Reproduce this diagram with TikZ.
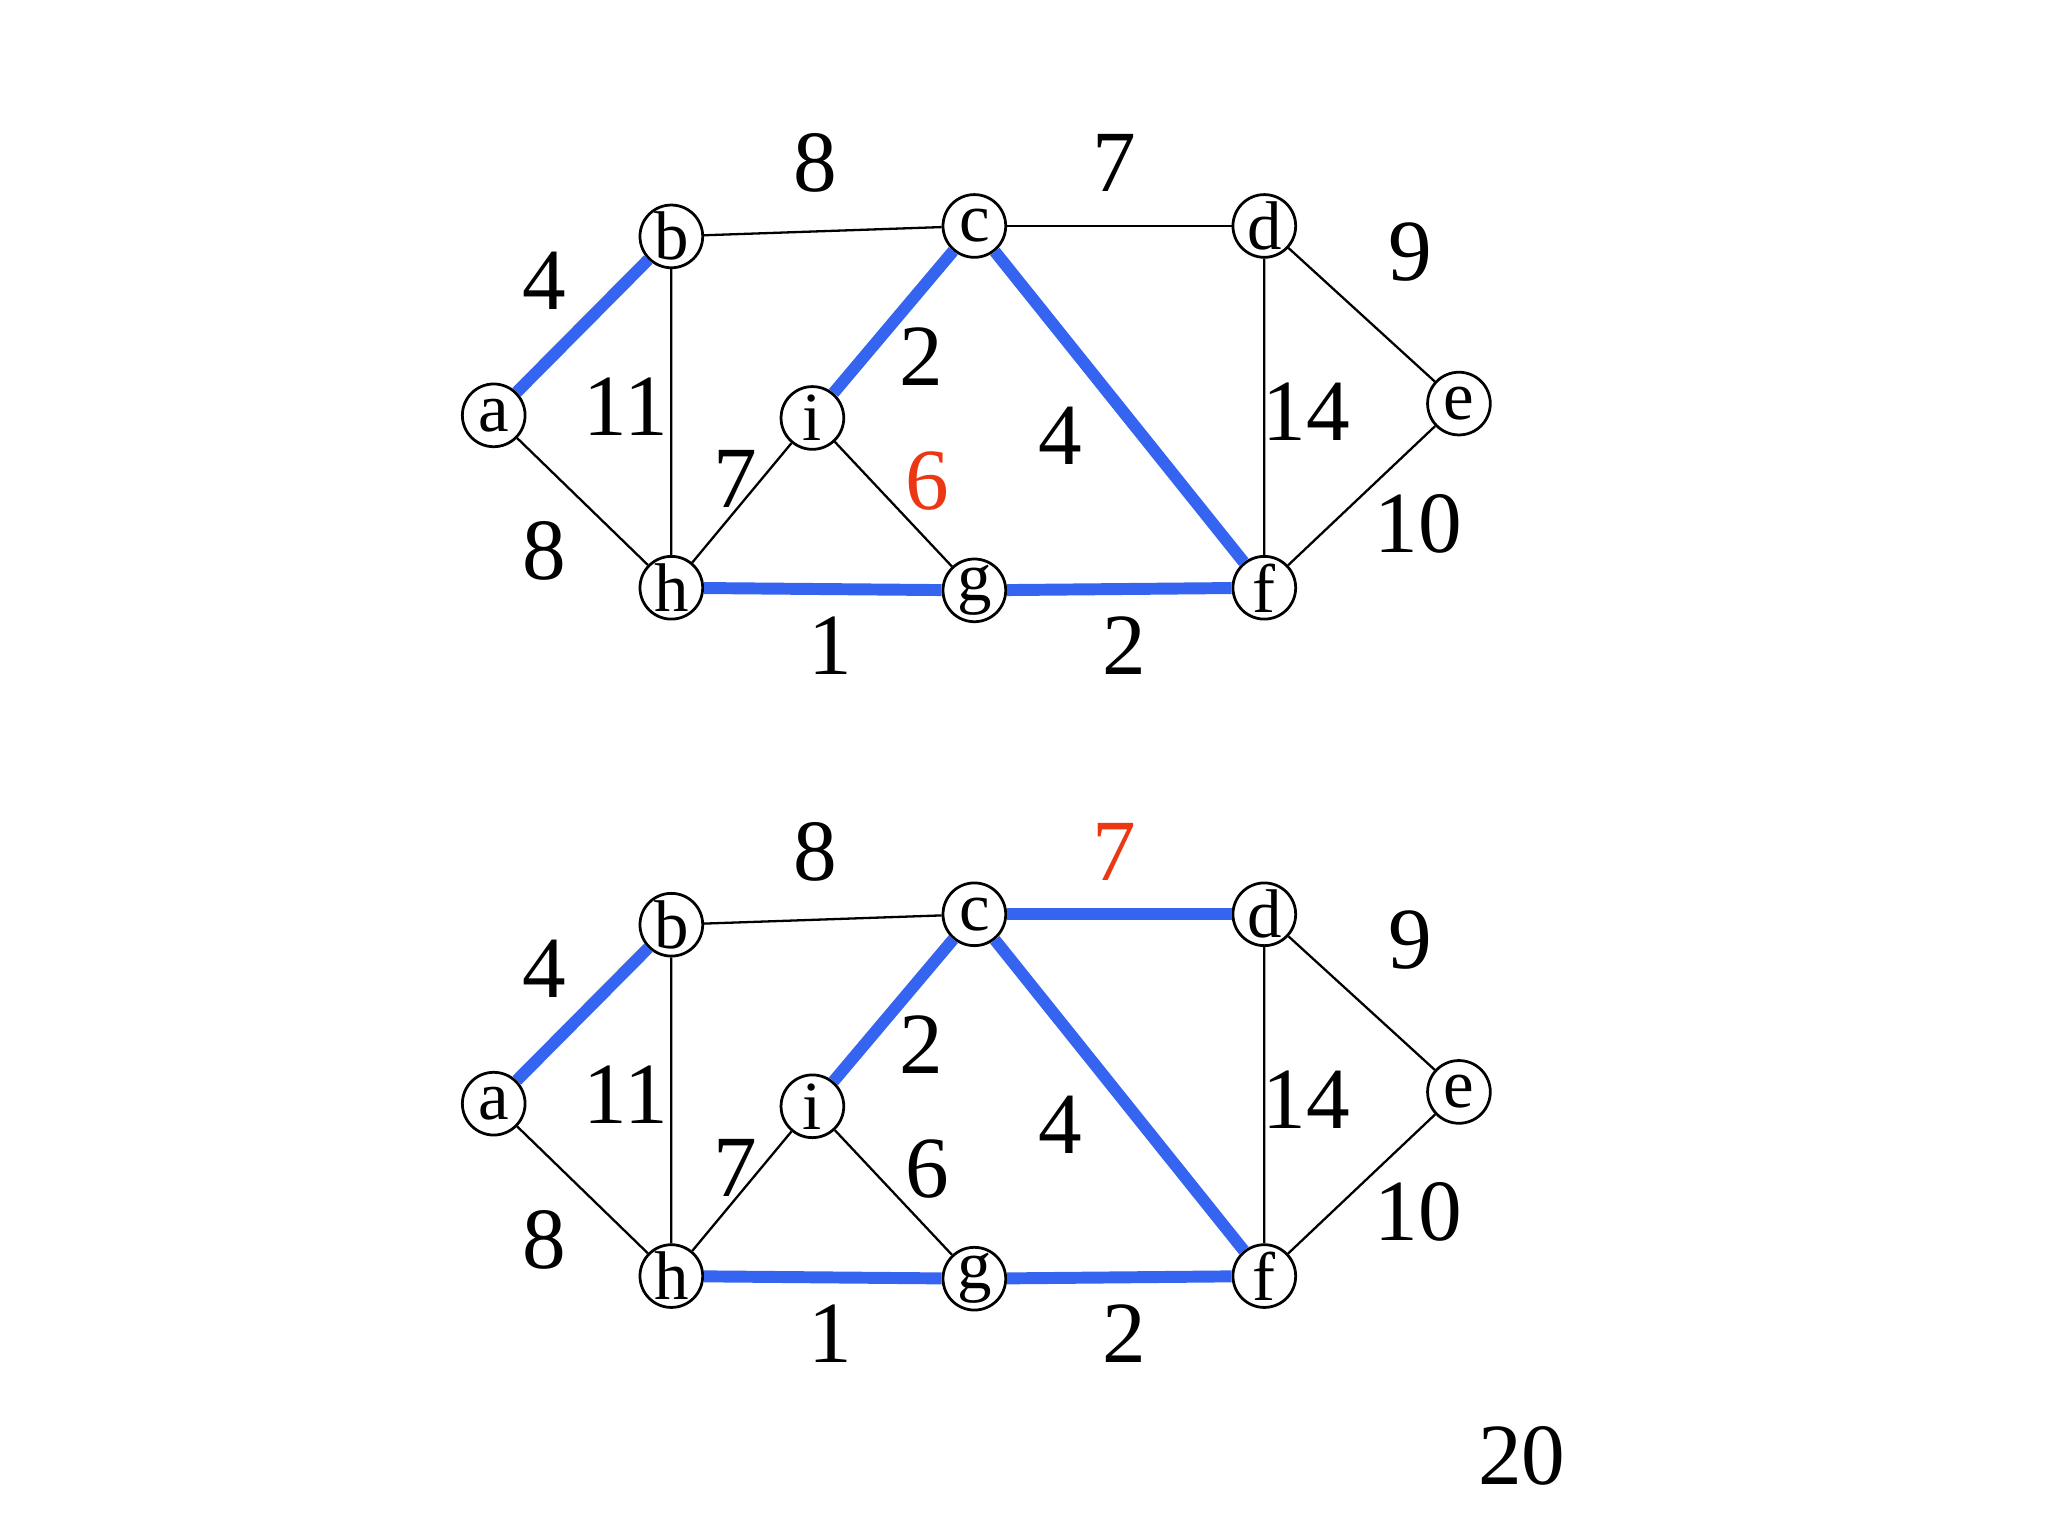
\documentclass[tikz,border=0pt]{standalone}
\usepackage{fontspec}
\setmainfont{Liberation Serif}
\begin{document}
\begin{tikzpicture}[x=0.01cm,y=-0.01cm,
  vtx/.style={circle,draw,line width=0.6pt,minimum size=0.48cm,inner sep=0pt,font=\fontsize{15}{15}\selectfont},
  thin/.style={line width=0.5pt},
  mst/.style={line width=2.6pt,draw={rgb,255:red,52;green,100;blue,240}},
  wt/.style={font=\fontsize{19}{19}\selectfont},
  hl/.style={wt,text={rgb,255:red,235;green,55;blue,20}}]
\useasboundingbox (0,0) rectangle (1568,1176);
\foreach \dy/\p/\six/\sev in {0/u/hl/wt,527/l/wt/hl}{
  \node[vtx] (a\p) at (378,318+\dy) {a};
  \node[vtx] (b\p) at (514,181+\dy) {b};
  \node[vtx] (c\p) at (746,173+\dy) {c};
  \node[vtx] (d\p) at (968,173+\dy) {d};
  \node[vtx] (e\p) at (1117,309+\dy) {e};
  \node[vtx] (f\p) at (968,450+\dy) {f};
  \node[vtx] (g\p) at (746,452+\dy) {g};
  \node[vtx] (h\p) at (514,450+\dy) {h};
  \node[vtx] (i\p) at (622,320+\dy) {i};
  \draw[thin] (b\p)--(c\p) (b\p)--(h\p) (a\p)--(h\p) (h\p)--(i\p) (i\p)--(g\p)
    (d\p)--(f\p) (d\p)--(e\p) (e\p)--(f\p);
  \draw[mst] (a\p)--(b\p) (c\p)--(i\p) (c\p)--(f\p) (h\p)--(g\p) (g\p)--(f\p);
  \node[wt] (w1\p) at (624,125+\dy) {8};
  \node[\sev] (w2\p) at (853,125+\dy) {7};
  \node[wt] (w3\p) at (417,215+\dy) {4};
  \node[wt] (w4\p) at (479,311+\dy) {11};
  \node[wt] (w5\p) at (705,273+\dy) {2};
  \node[wt] (w6\p) at (812,334+\dy) {4};
  \node[wt] (w7\p) at (1000,315+\dy) {14};
  \node[wt] (w8\p) at (1080,193+\dy) {9};
  \node[wt] (w9\p) at (563,367+\dy) {7};
  \node[\six] (w10\p) at (710,368+\dy) {6};
  \node[wt] (w11\p) at (417,422+\dy) {8};
  \node[wt] (w12\p) at (1086,401+\dy) {10};
  \node[wt] (w13\p) at (636,494+\dy) {1};
  \node[wt] (w14\p) at (861,494+\dy) {2};
}
\draw[thin] (cu)--(du);
\draw[mst] (cl)--(dl);
\node[wt] (pg) at (1165,1115) {20};
\end{tikzpicture}
\end{document}
